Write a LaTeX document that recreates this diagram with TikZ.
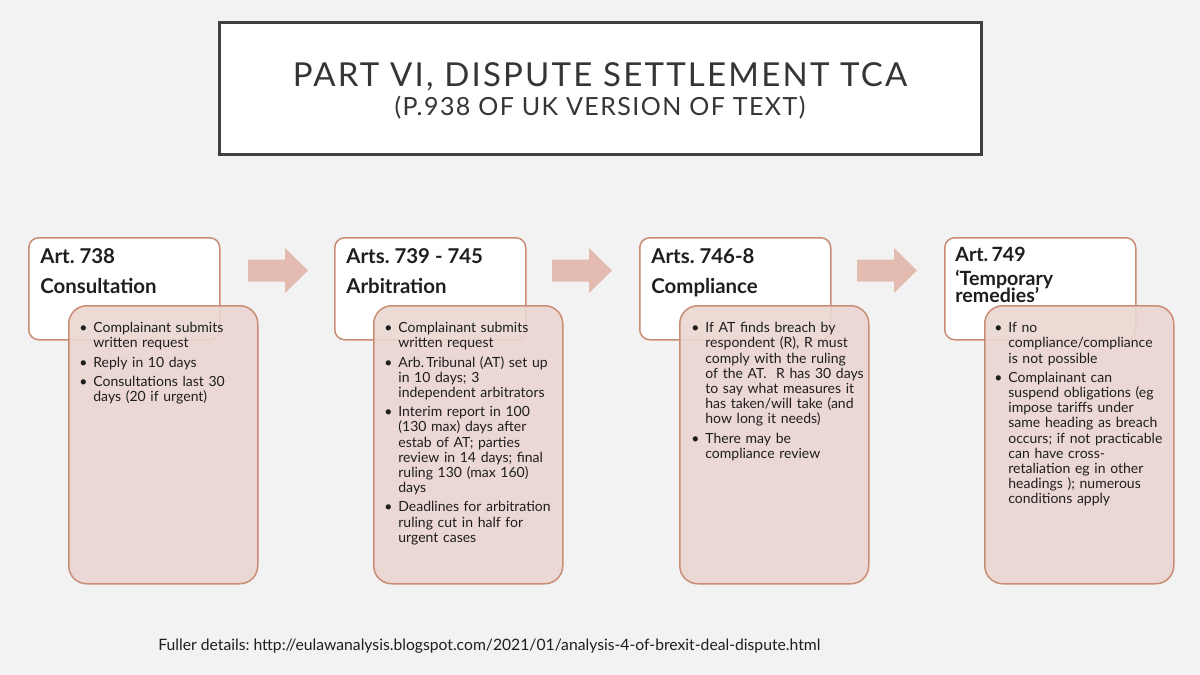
\documentclass[tikz,border=0pt]{standalone}
\usepackage{fontspec}
\setmainfont{Lato}
\newfontfamily\titlefont[LetterSpace=6.7]{Lato}
\newfontfamily\subfont[LetterSpace=5.8]{Lato}
\frenchspacing
\definecolor{bgc}{HTML}{F2F2F2}
\definecolor{tborder}{HTML}{404040}
\definecolor{hborder}{HTML}{C98C74}
\definecolor{pinkfill}{HTML}{EBD6D1}
\definecolor{arrowc}{HTML}{E4BBB0}
\definecolor{txt}{HTML}{1E1E1E}
\newcommand\itm[1]{\par\noindent\llap{\textbullet\hspace{3pt}}#1}
\tikzset{
  titlebox/.style={draw=tborder, line width=1.5pt, fill=white, minimum width=381pt, minimum height=66pt, inner sep=0pt},
  titletxt/.style={text=txt!90, font=\titlefont\fontsize{16.5}{18}\selectfont, inner sep=0pt},
  subtxt/.style={text=txt!90, font=\subfont\fontsize{12.5}{14}\selectfont, inner sep=0pt},
  hdr/.style={draw=hborder, line width=0.75pt, fill=white, rounded corners=5pt, minimum width=95.5pt, minimum height=51pt, inner sep=0pt},
  pnk/.style={draw=hborder, line width=0.75pt, fill=pinkfill, fill opacity=0.9, rounded corners=9pt, minimum width=94.5pt, minimum height=139pt, inner sep=0pt},
  hd/.style={text=txt, font=\bfseries\fontsize{10.2}{11}\selectfont, inner sep=0pt},
  hdsmall/.style={text=txt, font=\bfseries\fontsize{9.8}{11}\selectfont, inner sep=0pt},
  body/.style={text=txt, font=\fontsize{7}{7.6}\selectfont, text width=80pt, align=left, inner sep=0pt, execute at begin node={\setlength{\parskip}{2pt}}},
  foot/.style={text=txt, font=\fontsize{7.85}{9}\selectfont, inner sep=0pt},
  blockarrow/.style={fill=arrowc}
}
\begin{document}
\begin{tikzpicture}[x=0.5pt,y=-0.5pt]
\useasboundingbox (0,0) rectangle (1200,675);
\fill[bgc] (0,0) rectangle (1200,675);
% title
\node[titlebox] (title) at (600,88) {};
\node[titletxt, anchor=base] (t1) at (600,86) {PART VI, DISPUTE SETTLEMENT TCA};
\node[subtxt, anchor=base] (t2) at (600,115) {(P.938 OF UK VERSION OF TEXT)};
% headers
\node[hdr, anchor=north west] (h1) at (28,237) {};
\node[hdr, anchor=north west] (h2) at (334,237) {};
\node[hdr, anchor=north west] (h3) at (639,237) {};
\node[hdr, anchor=north west] (h4) at (944,237) {};
\node[hd, anchor=base west] (h1a) at (40,263) {Art. 738};
\node[hd, anchor=base west] (h1b) at (40,293) {Consultation};
\node[hd, anchor=base west] (h2a) at (346,263) {Arts. 739 - 745};
\node[hd, anchor=base west] (h2b) at (346,293) {Arbitration};
\node[hd, anchor=base west] (h3a) at (651,263) {Arts. 746-8};
\node[hd, anchor=base west] (h3b) at (651,293) {Compliance};
\node[hdsmall, anchor=base west] (h4a) at (955,261) {Art.\,749};
\node[hdsmall, anchor=base west] (h4b) at (955,285) {‘Temporary};
\node[hdsmall, anchor=base west] (h4c) at (955,302) {remedies’};
% arrows
\foreach \n/\x in {1/248,2/552,3/857}{
  \coordinate (a\n) at (\x,270.5);
  \fill[blockarrow] (a\n) ++(0,-11) -- ++(37,0) -- ++(0,-11.5) -- ++(23,22.5) -- ++(-23,22.5) -- ++(0,-11.5) -- ++(-37,0) -- cycle;
}
% pink boxes
\node[pnk, anchor=north west] (p1) at (68,305) {};
\node[pnk, anchor=north west] (p2) at (373,305) {};
\node[pnk, anchor=north west] (p3) at (679,305) {};
\node[pnk, anchor=north west] (p4) at (984,305) {};
% body text
\node[body, anchor=north west] (b1) at (93,313) {\itm{Complainant submits\\written request}\itm{Reply in 10 days}\itm{Consultations last 30\\days (20 if urgent)}};
\node[body, anchor=north west] (b2) at (398,313) {\itm{Complainant submits\\written request}\itm{Arb.\,Tribunal (AT) set up\\in 10 days; 3\\independent arbitrators}\itm{Interim report in 100\\(130 max) days after\\estab of AT; parties\\review in 14 days; final\\ruling 130 (max 160)\\days}\itm{Deadlines for arbitration\\ruling cut in half for\\urgent cases}};
\node[body, anchor=north west] (b3) at (705,313) {\itm{If AT finds breach by\\respondent (R), R must\\comply with the ruling\\of the AT.\ \ R has 30 days\\to say what measures it\\has taken/will take (and\\how long it needs)}\itm{There may be\\compliance review}};
\node[body, anchor=north west] (b4) at (1008,313) {\itm{If no\\compliance/compliance\\is not possible}\itm{Complainant can\\suspend obligations (eg\\impose tariffs under\\same heading as breach\\occurs; if not practicable\\can have cross-\\retaliation eg in other\\headings ); numerous\\conditions apply}};
% footer
\node[foot, anchor=base west] (foot) at (158,650) {Fuller details: http://eulawanalysis.blogspot.com/2021/01/analysis-4-of-brexit-deal-dispute.html};
\end{tikzpicture}
\end{document}
